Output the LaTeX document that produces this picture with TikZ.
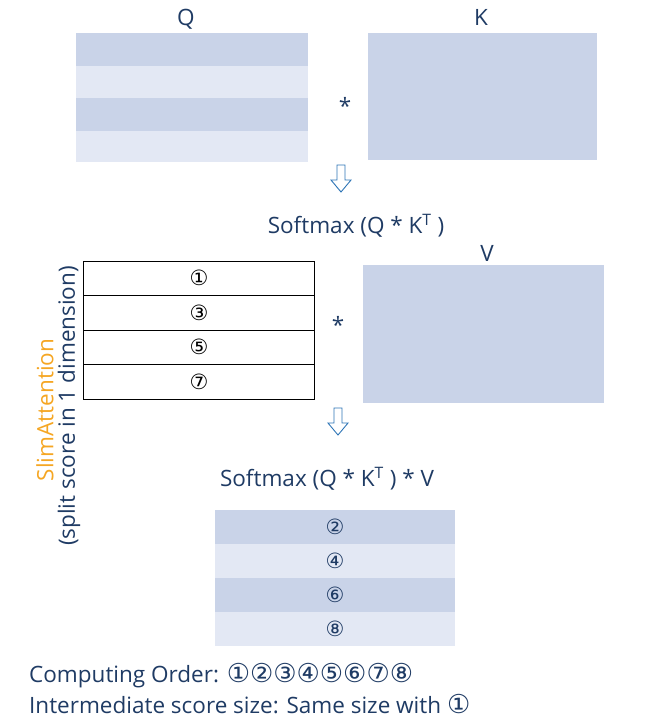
\documentclass[tikz,border=0pt]{standalone}
\usepackage{fontspec}
\setmainfont{Open Sans}
\newfontfamily\circf{DejaVu Sans}
\definecolor{dk}{HTML}{1F3B64}
\definecolor{mA}{HTML}{C9D3E8}
\definecolor{mB}{HTML}{E3E8F4}
\definecolor{arr}{HTML}{2E75B6}
\definecolor{orng}{HTML}{F5A623}
\tikzset{x=1pt,y=-1pt,
 lbl/.style={text=dk,font=\fontsize{22.5}{26}\selectfont,inner sep=0pt},
 cnum/.style={font=\circf\fontsize{21}{24}\selectfont,text=black,inner sep=0pt},
 rowbox/.style={draw=black,line width=0.8pt,fill=white}}
\newcommand{\dnarrow}[2]{\draw[arr,line width=0.9pt,fill=white] (#1-4,#2-15) -- (#1+4,#2-15) -- (#1+4,#2) -- (#1+10,#2) -- (#1,#2+12) -- (#1-10,#2) -- (#1-4,#2) -- cycle;}
\begin{document}
\begin{tikzpicture}
\useasboundingbox (0,0) rectangle (659,721);
% Q
\node[lbl] (q) at (186,19) {Q};
\fill[mA] (76,33) rectangle (308,66);
\fill[mB] (76,66) rectangle (308,98);
\fill[mA] (76,98) rectangle (308,131);
\fill[mB] (76,131) rectangle (308,162);
\node[lbl] (s1) at (345,106) {*};
\node[lbl] (k) at (481,17) {K};
\fill[mA] (368,33) rectangle (597,160);
\dnarrow{341}{180}
\node[lbl] (sm1) at (356,226) {Softmax (Q * K\textsuperscript{T} )};
% score
\node[lbl] (v) at (487,253) {V};
\foreach \i/\n [count=\c from 0] in {1/①,3/③,5/⑤,7/⑦}{
  \draw[rowbox] (83,261+34.5*\c) rectangle (314,295.5+34.5*\c);
  \node[cnum] (r\i) at (199,278+34.5*\c) {\n};
}
\node[lbl] (s2) at (338,325) {*};
\fill[mA] (363,265) rectangle (604,403);
\dnarrow{338}{423}
\node[lbl] (sm2) at (327,479) {Softmax (Q * K\textsuperscript{T} ) * V};
\foreach \i/\n/\col [count=\c from 0] in {2/②/mA,4/④/mB,6/⑥/mA,8/⑧/mB}{
  \fill[\col] (215,510+34*\c) rectangle (455,544+34*\c);
  \node[cnum,text=dk] (o\i) at (335,527+34*\c) {\n};
}
% side label
\node[lbl,text=orng,rotate=90] (sl) at (45,410) {SlimAttention};
\node[lbl,rotate=90] (sp) at (69,406) {(split score in 1 dimension)};
% bottom
\node[lbl,anchor=west] (co) at (29,676) {Computing Order: {\circf\fontsize{26}{28}\selectfont ①②③④⑤⑥⑦⑧}};
\node[lbl,anchor=west] (is) at (29,704) {Intermediate score size: Same size with {\circf\fontsize{26}{28}\selectfont ①}};
\end{tikzpicture}
\end{document}
